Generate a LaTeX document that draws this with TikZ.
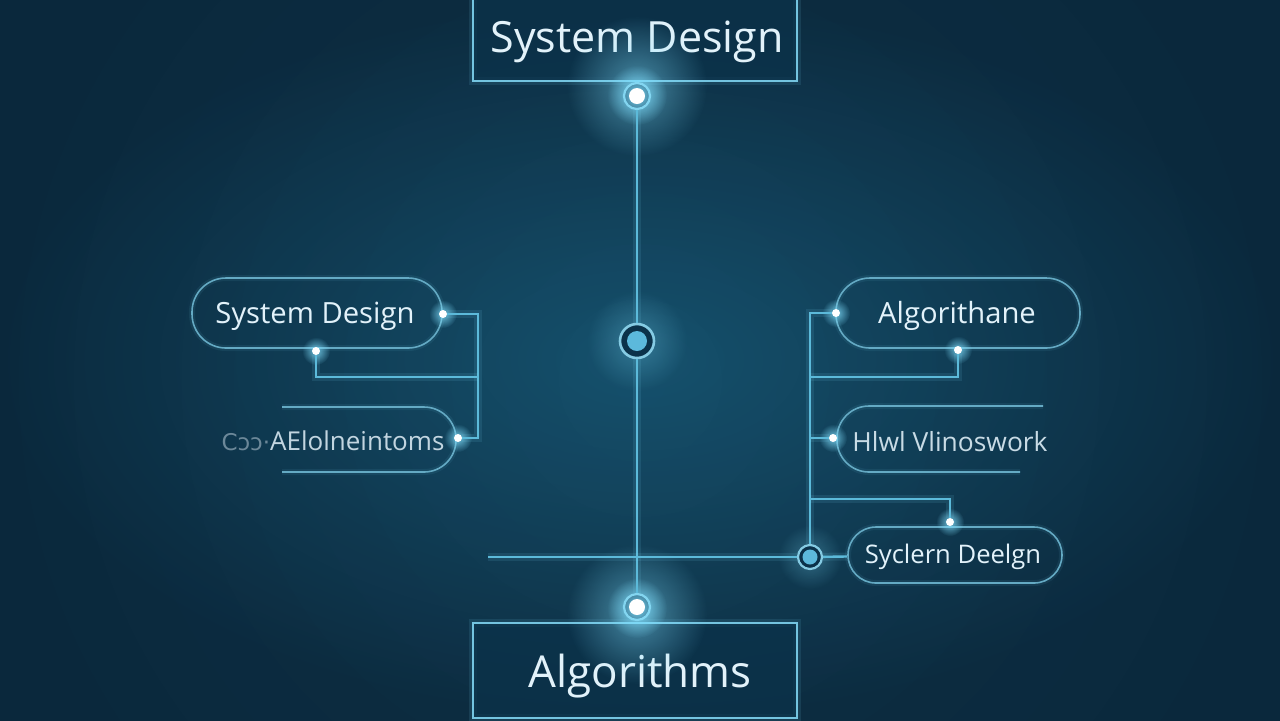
\documentclass[tikz,border=0pt]{standalone}
\usepackage{fontspec}
\setmainfont{Open Sans}
\newfontfamily\djv{DejaVu Sans}
\usetikzlibrary{fadings}
\definecolor{bgin}{RGB}{16,74,102}
\definecolor{bgout}{RGB}{10,40,60}
\definecolor{wire}{RGB}{92,186,218}
\definecolor{rim}{RGB}{100,170,196}
\definecolor{glowc}{RGB}{130,225,255}
\definecolor{txt}{RGB}{226,242,250}
\definecolor{boxfill}{RGB}{11,50,74}
\definecolor{corefill}{RGB}{92,185,220}
\tikzfading[name=softglow, inner color=transparent!0, outer color=transparent!100]
\newcommand\glowat[4]{\fill[glowc, fill opacity=#4, path fading=softglow] (#1,#2) circle[radius=#3];}
\begin{document}
\begin{tikzpicture}[x=0.5pt,y=-0.5pt,
  wire/.style={draw=wire, line width=1.2pt, preaction={draw=glowc, line width=4pt, draw opacity=0.10}},
  rim/.style={draw=rim, line width=0.8pt, preaction={draw=glowc, line width=3pt, draw opacity=0.07}},
  bigbox/.style={draw=wire!85!white, line width=0.9pt, fill=boxfill, fill opacity=0.75, minimum width=162pt, preaction={draw=glowc, line width=4pt, draw opacity=0.10}},
  pill/.style={rim, rounded corners=17pt, minimum width=125pt, minimum height=35pt},
  lbl/.style={text=txt, inner sep=0pt},
  plbl/.style={lbl, font=\fontsize{14.6}{18}\selectfont},
  dotn/.style={circle, fill=white, inner sep=0pt, minimum size=4pt},
  ring/.style={circle, draw=wire!75!white, line width=1.1pt, fill=boxfill, inner sep=0pt},
]
\useasboundingbox (0,0) rectangle (1280,720);
\shade[inner color=bgin, outer color=bgout] (0,0) rectangle (1280,720);
\glowat{640}{380}{700}{0.05}

% main boxes
\node[bigbox, minimum height=46pt, anchor=south] (topbox) at (635,82) {};
\node[lbl, font=\fontsize{21.5}{26}\selectfont] (toptext) at (637,42) {System Design};
\node[bigbox, minimum height=47.5pt, anchor=north] (botbox) at (635,622) {};
\node[lbl, font=\fontsize{22}{26}\selectfont] (bottext) at (640,676) {Algorithms};

% glows at main junctions
\glowat{637}{86}{70}{0.5}
\glowat{637}{614}{70}{0.5}
\glowat{637}{341}{50}{0.3}
\glowat{810}{557}{32}{0.3}

% left side
\node[pill] (lsd) at (317,313) {};
\node[plbl] (lsdt) at (315,316) {System Design};
\draw[rim] (282,407) [rounded corners=16pt] -- (456,407) -- (456,472) -- (282,472);
\node[lbl, font=\fontsize{13}{16}\selectfont] (lalg) at (333,441) {\textcolor{txt!45!boxfill}{\djv\fontsize{11.5}{14}\selectfont Cɔɔ·}\textcolor{txt!85!boxfill}{AElolneintoms}};

% right side
\node[pill, minimum width=122pt] (ralg) at (958,313) {};
\node[plbl] (ralgt) at (957,316) {Algorithane};
\draw[rim] (1043,406) [rounded corners=16pt] -- (837,406) -- (837,472) -- (1020,472);
\node[lbl, font=\fontsize{13.2}{16}\selectfont, text=txt!88!boxfill] (rnet) at (950,442) {Hlwl Vlinoswork};
\node[pill, rounded corners=14pt, minimum width=107pt, minimum height=28pt] (rsd) at (955,555) {};
\node[lbl, font=\fontsize{12.8}{16}\selectfont] (rsdt) at (953,557) {Syclern Deelgn};

% circles
\node[ring, minimum size=13pt] (topc) at (637,96) {};
\node[ring, minimum size=13pt] (botc) at (637,607) {};
\node[ring, minimum size=17pt, line width=1.3pt] (mid) at (637,341) {};
\node[ring, minimum size=12pt] (rc) at (810,557) {};
\fill[corefill] (mid) circle[radius=10];
\fill[corefill] (rc) circle[radius=7.5];
\glowat{637}{95}{30}{0.9}
\glowat{637}{608}{30}{0.9}
\fill[white] (topc) circle[radius=8];
\fill[white] (botc) circle[radius=8];

% dots
\foreach \n/\x/\y in {dl1/443/314, dl2/316/351, dl3/458/438, dr1/836/313, dr2/958/350, dr3/833/438, dr4/950/522}{
  \glowat{\x}{\y}{14}{0.8}
  \node[dotn] (\n) at (\x,\y) {};
}

% junction coordinates
\coordinate (jl) at (478,377);
\coordinate (hl) at (488,557);
\coordinate (rv1) at (810,313);
\coordinate (rv2) at (810,377);
\coordinate (rv3) at (810,438);
\coordinate (rv4) at (810,499);

% connectors
\draw[wire] (topc) -- (mid);
\draw[wire] (mid) -- (botc);
\draw[wire] (hl) -- (rc);
\draw[wire] (rc) -- (rsd);
\draw[wire] (rc) -- (rv1) -- (dr1);
\draw[wire] (dr2) |- (rv2);
\draw[wire] (rv3) -- (dr3);
\draw[wire] (rv4) -| (dr4);
\draw[wire] (dl1) -| (jl) |- (dl3);
\draw[wire] (dl2) |- (jl);
\end{tikzpicture}
\end{document}
